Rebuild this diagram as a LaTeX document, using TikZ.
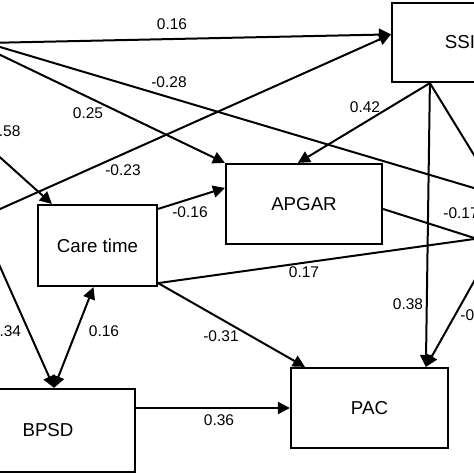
\documentclass[tikz,border=0pt]{standalone}
\usepackage{fontspec}
\setmainfont{Liberation Sans}
\usepackage{tikz}
\usetikzlibrary{positioning}
\usetikzlibrary{calc}
\usetikzlibrary{arrows.meta}

\tikzset{
  var/.style={draw, line width=2.2pt, inner sep=0pt, font=\fontsize{18.7}{22}\selectfont},
  coef/.style={inner sep=0pt, font=\fontsize{15.5}{18}\selectfont},
  link/.style={line width=2pt, -{Triangle[length=12pt,width=12pt]}},
  dlink/.style={line width=2pt, {Triangle[length=12pt,width=12pt]}-{Triangle[length=12pt,width=12pt]}}
}

\begin{document}
\begin{tikzpicture}[x=1pt,y=-1pt]
    \useasboundingbox (0,0) rectangle (474,474);
    \clip (0,0) rectangle (474,474);

    % Define nodes
    \node[var, minimum width=136pt, minimum height=79pt] (ssi)   at (460,42.5)   {SSI};
    \node[var, minimum width=156pt, minimum height=80pt] (apgar) at (304,204)    {APGAR};
    \node[var, minimum width=119pt, minimum height=81pt] (care)  at (97.5,245.5) {Care time};
    \node[var, minimum width=157pt, minimum height=80pt] (pac)   at (369.5,408)  {PAC};
    \node[var, minimum width=174pt, minimum height=83pt] (bpsd)  at (48,430.5)   {BPSD};

    % Ends outside the frame
    \coordinate (lt1) at (-10,42.9);
    \coordinate (lt2) at (-10,44);
    \coordinate (lt3) at (-10,50);
    \coordinate (lm1) at (-10,148.3);
    \coordinate (lm2) at (-10,213.5);
    \coordinate (lb)  at (-10,244.2);
    \coordinate (rt1) at (490,192.8);
    \coordinate (rt2) at (490,181);
    \coordinate (rt3) at (490,243);
    \coordinate (rt4) at (490,236.8);
    \coordinate (rt5) at (490,253);

    % Coefficients
    \node[coef] (c016a) at (172,24.5) {0.16};
    \node[coef] (c028)  at (169,82)   {-0.28};
    \node[coef] (c025)  at (88,113)   {0.25};
    \node[coef] (c058)  at (5.3,131)  {0.58};
    \node[coef] (c023)  at (123,170)  {-0.23};
    \node[coef] (c016b) at (190,212)  {-0.16};
    \node[coef] (c042)  at (365,107)  {0.42};
    \node[coef] (c017a) at (461,213)  {-0.17};
    \node[coef] (c017b) at (304,272)  {0.17};
    \node[coef] (c038)  at (408,304)  {0.38};
    \node[coef] (c031)  at (221,336)  {-0.31};
    \node[coef] (c034)  at (6,331)    {0.34};
    \node[coef] (c016c) at (104,331)  {0.16};
    \node[coef] (c036)  at (219,420)  {0.36};
    \node[coef] (c009)  at (478,315)  {-0.09};

    % Connect the nodes
    \draw[link] (lt1) -- ($(ssi.north west)!0.4!(ssi.south west)$);
    \draw[link] (lm2) -- ($(ssi.north west)!0.4!(ssi.south west)$);
    \draw[link] (lt2) -- (rt1);
    \draw[link] (lt3) -- (apgar.north west);
    \draw[link] (lm1) -- ($(care.north west)+(15,0)$);
    \draw[link] (lb) -- ($(bpsd.north)+(6,0)$);
    \draw[link] ($(care.north east)+(0,5)$) -- ($(apgar.north west)+(0,25)$);
    \draw[link] ($(ssi.south west)+(39,0)$) -- ($(apgar.north west)+(73,0)$);
    \draw[link] ($(ssi.south west)+(39,0)$) -- ($(pac.north west)+(136,0)$);
    \draw[link] ($(ssi.south west)+(39,0)$) -- (rt2);
    \draw[link] ($(apgar.east)+(0,5)$) -- (rt3);
    \draw[link] ($(care.south east)+(0,-4)$) -- (rt4);
    \draw[link] ($(care.south east)+(0,-4)$) -- ($(pac.north west)+(15,0)$);
    \draw[link] (rt5) -- ($(pac.north west)+(136,0)$);
    \draw[dlink] ($(care.south)+(-4,0)$) -- ($(bpsd.north)+(6,0)$);
    \draw[link] (pac.west -| bpsd.east) -- (pac.west);
\end{tikzpicture}
\end{document}
